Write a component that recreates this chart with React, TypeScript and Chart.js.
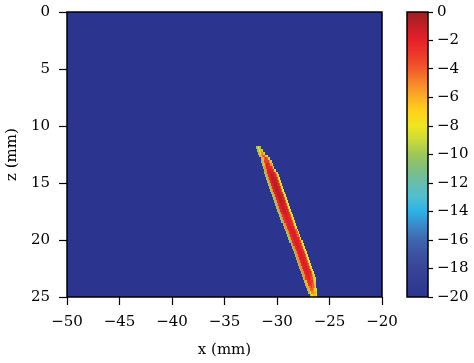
import React, { useEffect, useRef } from 'react';
import { Chart, registerables } from 'chart.js';
Chart.register(...registerables);

// ---- axes / ticks ----
const xTicks = [-50, -45, -40, -35, -30, -25, -20];
const zTicks = [0, 5, 10, 15, 20, 25];
const cbTicks = [0, -2, -4, -6, -8, -10, -12, -14, -16, -18, -20];
const xRange = [-50, -20];
const zRange = [0, 25];
const dbRange = [-20, 0];
const backgroundDb = -20;

// ---- colormap (value in dB -> colour) ----
const cmapValues = [0, -1, -2, -3, -4, -5, -6, -7, -8, -9, -10, -11, -12, -13, -14, -15, -16, -17, -18, -19, -20];
const cmapColors = [
  '#9b1f24', '#c41e26', '#e8202a', '#ec3a28', '#f15a29', '#f7882a', '#fbb024', '#ffd21c',
  '#eee520', '#c9da3b', '#9dc75a', '#7fbf7d', '#68bdae', '#4fbfd2', '#2cb2e6', '#3a88c8',
  '#3f66ad', '#3c52a2', '#384599', '#313c92', '#2b3590',
];

// ---- streak: each row = top z (mm), centre x (mm), dB values across the row ----
const streakRowZ = [
  11.75, 12.0, 12.25, 12.5, 12.75, 13.0, 13.25, 13.5, 13.75, 14.0,
  14.25, 14.5, 14.75, 15.0, 15.25, 15.5, 15.75, 16.0, 16.25, 16.5,
  16.75, 17.0, 17.25, 17.5, 17.75, 18.0, 18.25, 18.5, 18.75, 19.0,
  19.25, 19.5, 19.75, 20.0, 20.25, 20.5, 20.75, 21.0, 21.25, 21.5,
  21.75, 22.0, 22.25, 22.5, 22.75, 23.0, 23.25, 23.5, 23.75, 24.0,
  24.25, 24.5, 24.75,
];
const streakRowX = [
  -31.75, -31.6, -31.45, -31.3, -31.12, -31.0, -30.9, -30.8, -30.68, -30.57,
  -30.47, -30.38, -30.28, -30.19, -30.09, -30.0, -29.9, -29.81, -29.71, -29.62,
  -29.52, -29.43, -29.33, -29.24, -29.14, -29.05, -28.95, -28.84, -28.73, -28.62,
  -28.51, -28.4, -28.3, -28.19, -28.08, -27.98, -27.88, -27.79, -27.69, -27.6,
  -27.5, -27.41, -27.31, -27.22, -27.12, -27.03, -26.94, -26.87, -26.8, -26.73,
  -26.66, -26.59, -26.52,
];
const coreUpper = [-10, -5, -2, -1, -0.7, -0.8, -1.6, -3.5, -8];
const coreMid = [-10, -5, -2, -1.3, -1, -1.2, -1.8, -3.5, -8];
const coreLower = [-10, -5, -2.5, -1.8, -1.5, -1.6, -2.2, -4, -8];
const streakRowValues = [
  [-10, -8, -10],
  [-10, -8, -6, -9],
  [-10, -7, -5, -6, -9],
  [-10, -6, -4, -4, -6, -9],
  [-10, -6, -4, -3, -4, -9],
  [-10, -6, -3, -3, -3, -5, -9],
  [-10, -6, -3, -2, -2, -3, -5, -9],
  [-10, -5, -2, -2, -2, -2.5, -4, -9],
  [-10, -5, -2, -1.5, -1.5, -2, -3, -8],
  [-10, -5, -2, -1.5, -1.2, -1.5, -2, -4, -9],
  [-10, -5, -2, -1, -1, -1.2, -2, -4, -9],
  [-10, -5, -2, -1, -0.8, -1, -1.6, -3.5, -8],
  coreUpper, coreUpper, coreUpper, coreUpper, coreUpper, coreUpper, coreUpper, coreUpper,
  coreMid, coreMid, coreMid, coreMid,
  coreLower, coreLower, coreLower, coreLower, coreLower, coreLower, coreLower, coreLower,
  coreLower, coreLower, coreLower, coreLower, coreLower, coreLower, coreLower, coreLower,
  coreLower, coreLower, coreLower, coreLower, coreLower,
  [-10, -5, -3, -2, -2, -2, -3, -5, -9],
  [-10, -5, -3, -2, -2, -2.5, -3.5, -6, -9],
  [-10, -6, -3, -2.5, -2.5, -3, -5, -9],
  [-10, -6, -3, -2.5, -3, -4, -6, -9],
  [-10, -6, -4, -3, -4, -5, -8],
  [-10, -6, -4, -4, -5, -7, -9],
  [-10, -7, -5, -5, -6, -9],
  [-10, -7, -6, -6, -8],
];
const cellWidthMm = 0.14;
const rowHeightMm = 0.25;

const FONT = { family: "'DejaVu Serif', 'Liberation Serif', serif", size: 15 };
const fmt = (v: any) => String(v).replace('-', '\u2212');

function hexToRgb(h: string) {
  const n = parseInt(h.slice(1), 16);
  return [(n >> 16) & 255, (n >> 8) & 255, n & 255];
}
function cmap(v: number) {
  if (v >= cmapValues[0]) return cmapColors[0];
  const last = cmapValues.length - 1;
  if (v <= cmapValues[last]) return cmapColors[last];
  for (let i = 0; i < last; i++) {
    const a = cmapValues[i], b = cmapValues[i + 1];
    if (v <= a && v >= b) {
      const t = (a - v) / (a - b);
      const c1 = hexToRgb(cmapColors[i]), c2 = hexToRgb(cmapColors[i + 1]);
      const c = c1.map((k, j) => Math.round(k + (c2[j] - k) * t));
      return `rgb(${c[0]},${c[1]},${c[2]})`;
    }
  }
  return cmapColors[last];
}

const zeroPad = (s: any) => {
  s.paddingTop = 0;
  s.paddingBottom = 0;
  s.paddingLeft = 0;
  s.paddingRight = 0;
};

const heatmapPlugin = {
  id: 'heatmap',
  beforeDatasetsDraw(chart: any) {
    const { ctx, chartArea } = chart;
    const xs = chart.scales.x, ys = chart.scales.y;
    ctx.save();
    ctx.beginPath();
    ctx.rect(chartArea.left, chartArea.top, chartArea.right - chartArea.left, chartArea.bottom - chartArea.top);
    ctx.clip();
    const bx0 = xs.getPixelForValue(xRange[0]), bx1 = xs.getPixelForValue(xRange[1]);
    const by0 = ys.getPixelForValue(zRange[0]), by1 = ys.getPixelForValue(zRange[1]);
    ctx.fillStyle = cmap(backgroundDb);
    ctx.fillRect(Math.min(bx0, bx1), Math.min(by0, by1), Math.abs(bx1 - bx0), Math.abs(by1 - by0));
    for (let i = 0; i < streakRowZ.length; i++) {
      const vals = streakRowValues[i];
      const left = streakRowX[i] - (vals.length * cellWidthMm) / 2;
      const py0 = Math.round(ys.getPixelForValue(streakRowZ[i]));
      const py1 = Math.round(ys.getPixelForValue(streakRowZ[i] + rowHeightMm));
      for (let j = 0; j < vals.length; j++) {
        const px0 = Math.round(xs.getPixelForValue(left + j * cellWidthMm));
        const px1 = Math.round(xs.getPixelForValue(left + (j + 1) * cellWidthMm));
        if (px1 <= px0) continue;
        ctx.fillStyle = cmap(vals[j]);
        ctx.fillRect(px0, Math.min(py0, py1), px1 - px0, Math.abs(py1 - py0));
      }
    }
    ctx.restore();
  },
  afterDraw(chart: any) {
    const { ctx, chartArea } = chart;
    ctx.save();
    ctx.strokeStyle = '#000';
    ctx.lineWidth = 1.5;
    ctx.strokeRect(chartArea.left, chartArea.top, chartArea.right - chartArea.left, chartArea.bottom - chartArea.top);
    ctx.restore();
  },
};

const colorbarPlugin = {
  id: 'colorbar',
  beforeDatasetsDraw(chart: any) {
    const { ctx, chartArea } = chart;
    const ys = chart.scales.y;
    const y0 = ys.getPixelForValue(dbRange[1]);
    const y1 = ys.getPixelForValue(dbRange[0]);
    const g = ctx.createLinearGradient(0, y0, 0, y1);
    cmapValues.forEach((v, i) => {
      g.addColorStop((dbRange[1] - v) / (dbRange[1] - dbRange[0]), cmapColors[i]);
    });
    ctx.save();
    ctx.fillStyle = g;
    ctx.fillRect(chartArea.left, y0, chartArea.right - chartArea.left, y1 - y0);
    ctx.restore();
  },
  afterDraw(chart: any) {
    const { ctx, chartArea } = chart;
    ctx.save();
    ctx.strokeStyle = '#000';
    ctx.lineWidth = 1.5;
    ctx.strokeRect(chartArea.left, chartArea.top, chartArea.right - chartArea.left, chartArea.bottom - chartArea.top);
    ctx.restore();
  },
};

export default function App() {
  const mainRef = useRef<HTMLCanvasElement>(null);
  const cbRef = useRef<HTMLCanvasElement>(null);

  useEffect(() => {
    if (!mainRef.current || !cbRef.current) return;
    const main = new Chart(mainRef.current, {
      type: 'scatter',
      data: { datasets: [] },
      options: {
        animation: false,
        responsive: false,
        layout: { padding: { top: 12, right: 92, left: 0, bottom: 0 } },
        plugins: { legend: { display: false }, tooltip: { enabled: false } },
        scales: {
          x: {
            type: 'linear',
            min: xRange[0],
            max: xRange[1],
            afterBuildTicks: (s: any) => { s.ticks = xTicks.map((v) => ({ value: v })); },
            afterFit: (s: any) => { s.height = 66; zeroPad(s); },
            grid: { drawOnChartArea: false, drawTicks: true, tickLength: 8, tickColor: '#000', tickWidth: 1.2 },
            border: { display: false },
            ticks: { font: FONT, color: '#000', padding: 8, maxRotation: 0, autoSkip: false, callback: fmt },
            title: { display: true, text: 'x (mm)', font: FONT, color: '#000', padding: { top: 0, bottom: 4 } },
          },
          y: {
            type: 'linear',
            min: zRange[0],
            max: zRange[1],
            reverse: true,
            afterBuildTicks: (s: any) => { s.ticks = zTicks.map((v) => ({ value: v })); },
            afterFit: (s: any) => { s.width = 67; zeroPad(s); },
            grid: { drawOnChartArea: false, drawTicks: true, tickLength: 8, tickColor: '#000', tickWidth: 1.2 },
            border: { display: false },
            ticks: { font: FONT, color: '#000', padding: 9, autoSkip: false, callback: fmt },
            title: { display: true, text: 'z (mm)', font: FONT, color: '#000', padding: { top: 3, bottom: 0 } },
          },
        },
      } as any,
      plugins: [heatmapPlugin],
    });

    const cb = new Chart(cbRef.current, {
      type: 'scatter',
      data: { datasets: [] },
      options: {
        animation: false,
        responsive: false,
        layout: { padding: { top: 12, right: 0, left: 7, bottom: 66 } },
        plugins: { legend: { display: false }, tooltip: { enabled: false } },
        scales: {
          x: { type: 'linear', display: false, min: 0, max: 1 },
          y: {
            type: 'linear',
            position: 'right',
            min: dbRange[0],
            max: dbRange[1],
            afterBuildTicks: (s: any) => { s.ticks = cbTicks.map((v) => ({ value: v })); },
            afterFit: (s: any) => { s.width = 46; zeroPad(s); },
            grid: { drawOnChartArea: false, drawTicks: true, tickLength: 5, tickColor: '#000', tickWidth: 1.2 },
            border: { display: false },
            ticks: { font: FONT, color: '#000', padding: 4, autoSkip: false, callback: fmt },
          },
        },
      } as any,
      plugins: [colorbarPlugin],
    });

    return () => {
      main.destroy();
      cb.destroy();
    };
  }, []);

  return (
    <div style={{ position: 'fixed', left: 0, top: 0, width: 474, height: 363, background: '#fff', overflow: 'hidden' }}>
      <canvas ref={mainRef} width={474} height={363} style={{ position: 'absolute', left: 0, top: 0 }} />
      <canvas ref={cbRef} width={74} height={363} style={{ position: 'absolute', left: 400, top: 0 }} />
    </div>
  );
}
